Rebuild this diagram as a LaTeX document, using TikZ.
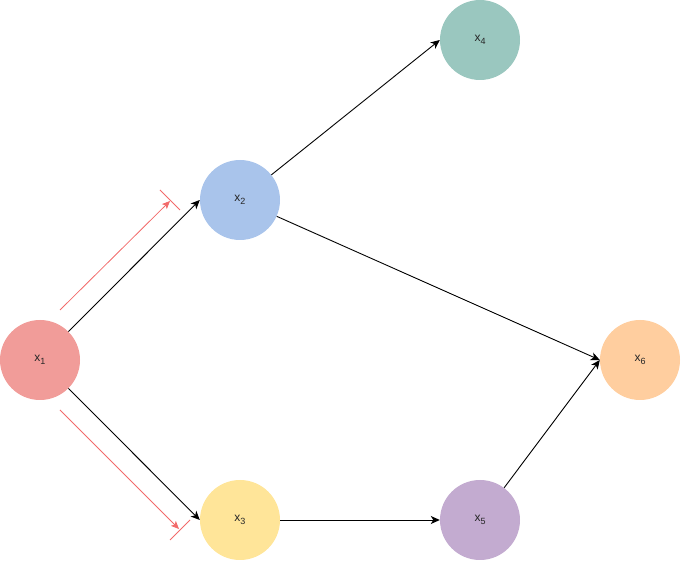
\documentclass[tikz,border=0pt]{standalone}
\usepackage{fontspec}
\setmainfont{Liberation Sans}
\usetikzlibrary{arrows.meta}
\definecolor{cA}{HTML}{F19C99}
\definecolor{cB}{HTML}{A9C4EB}
\definecolor{cC}{HTML}{FFE599}
\definecolor{cD}{HTML}{9AC7BF}
\definecolor{cE}{HTML}{C3ABD0}
\definecolor{cF}{HTML}{FFCE9F}
\definecolor{flowred}{HTML}{F26A6A}
\newcommand\xsub[1]{x\raisebox{-2.5pt}{\fontsize{9}{10}\selectfont #1}}
\tikzset{
  var/.style={circle, minimum size=80pt, inner sep=0pt, draw=none, font=\fontsize{12}{14}\selectfont, text=black!85},
  edge/.style={line width=0.9pt, -{Stealth[length=9pt,width=8pt,inset=2.5pt]}},
  flow/.style={line width=0.8pt, flowred, -{Stealth[length=8pt,width=7pt,inset=2pt]}},
  flowbar/.style={line width=0.8pt, flowred}
}
\begin{document}
\begin{tikzpicture}[x=1pt,y=-1pt]
\useasboundingbox (0,0) rectangle (681,561);
\node[var, fill=cA] (x1) at (40,360) {\xsub{1}};
\node[var, fill=cB] (x2) at (240,200) {\xsub{2}};
\node[var, fill=cC] (x3) at (240,520) {\xsub{3}};
\node[var, fill=cD] (x4) at (480,40) {\xsub{4}};
\node[var, fill=cE] (x5) at (480,520) {\xsub{5}};
\node[var, fill=cF] (x6) at (640,360) {\xsub{6}};
\draw[edge] (x1) -- (x2.west);
\draw[edge] (x1) -- (x3.west);
\draw[edge] (x2) -- (x4.west);
\draw[edge] (x2) -- (x6.west);
\draw[edge] (x3) -- (x5);
\draw[edge] (x5) -- (x6.west);
\coordinate (r1s) at (60,310);
\coordinate (r1e) at (170,201);
\coordinate (b1a) at (160,190);
\coordinate (b1b) at (180,210);
\coordinate (r2s) at (60,410);
\coordinate (r2e) at (179,529);
\coordinate (b2a) at (170,540);
\coordinate (b2b) at (190,520);
\draw[flow] (r1s) -- (r1e);
\draw[flowbar] (b1a) -- (b1b);
\draw[flow] (r2s) -- (r2e);
\draw[flowbar] (b2a) -- (b2b);
\end{tikzpicture}
\end{document}
